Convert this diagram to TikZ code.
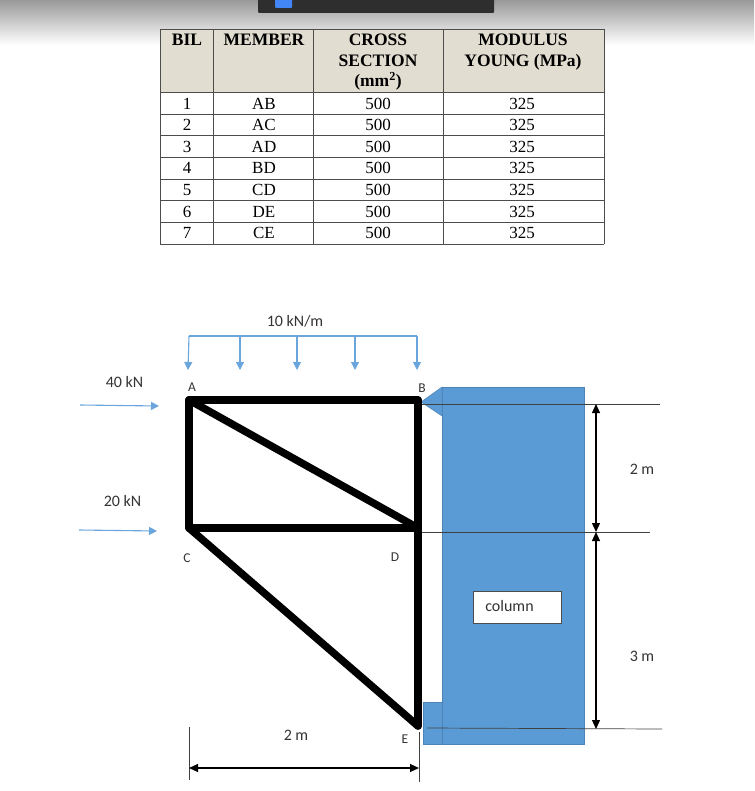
\documentclass[tikz,border=0pt]{standalone}
\usepackage{fontspec}
\setmainfont{Liberation Serif}
\newfontfamily\labelfont{Carlito}
\usetikzlibrary{arrows.meta, positioning}
\definecolor{colblue}{HTML}{5B9BD5}
\definecolor{loadblue}{HTML}{6AA5DC}
\definecolor{headfill}{HTML}{E2DDD1}
\definecolor{iconblue}{HTML}{4285F4}
\begin{document}
\begin{tikzpicture}[
        x=1pt, y=-1pt,
        member/.style={line width=7.5pt, black, line cap=round},
        load/.style={-{Triangle[length=8pt, width=8pt]}, line width=1.1pt, loadblue},
        dimline/.style={{Triangle[length=9pt, width=8pt]}-{Triangle[length=9pt, width=8pt]}, line width=1.1pt, black},
        guide/.style={line width=0.7pt, black!75},
        txt/.style={font=\labelfont\fontsize{16}{16}\selectfont, text=black!80, inner sep=0pt},
        jointtxt/.style={font=\labelfont\fontsize{13.5}{13.5}\selectfont, text=black!80, inner sep=0pt},
        cell/.style={font=\fontsize{17}{17}\selectfont, inner sep=0pt},
        headcell/.style={font=\bfseries\fontsize{17.5}{20.5}\selectfont, inner sep=0pt, align=center, anchor=north},
        grid/.style={line width=0.7pt, black!70}
    ]
        \useasboundingbox (0,0) rectangle (754,791);

        % Screen top
        \shade[top color=black!40, bottom color=white] (0,0) rectangle (754,45);
        \fill[black!82, rounded corners=1pt] (258,-4) rectangle (494,13);
        \fill[iconblue, rounded corners=1pt] (275,-4) rectangle (292,8);

        % Table
        \fill[headfill] (160,29) rectangle (604,92);
        \foreach \y in {29,92,114,135,157,179,200,222,244}
            \draw[grid] (160,\y) -- (604,\y);
        \foreach \x in {160,213,313,443,604}
            \draw[grid] (\x,29) -- (\x,244);
        \node[headcell] (hbil) at (187,34) {BIL};
        \node[headcell] (hmember) at (264,34) {MEMBER};
        \node[headcell] (hcross) at (378,34) {CROSS\\SECTION\\(mm\textsuperscript{2})};
        \node[headcell] (hmodulus) at (523,34) {MODULUS\\YOUNG (MPa)};
        \foreach \n/\m/\y in {1/AB/104, 2/AC/125, 3/AD/147, 4/BD/168, 5/CD/190, 6/DE/212, 7/CE/233} {
            \node[cell] (bil\n) at (187,\y) {\n};
            \node[cell] (mem\n) at (264,\y) {\m};
            \node[cell] (sec\n) at (378,\y) {500};
            \node[cell] (mod\n) at (522,\y) {325};
        }

        % Column
        \fill[colblue, draw=colblue!85!black, line width=0.5pt] (442,387) rectangle (584,744);
        \fill[colblue, draw=colblue!85!black, line width=0.5pt] (423,702) rectangle (442,744);
        \fill[colblue, draw=colblue!85!black, line width=0.5pt] (442,387) -- (421,402) -- (442,416) -- cycle;
        \node[draw=black!70, fill=white, minimum width=88pt, minimum height=32pt, inner sep=0pt] (column) at (517,607) {};
        \node[txt] (columntext) at (509.5,606) {column};

        % Joints
        \coordinate (A) at (189,400);
        \coordinate (B) at (418,400);
        \coordinate (C) at (189,528);
        \coordinate (D) at (418,528);
        \coordinate (E) at (418,726);

        % Level lines
        \coordinate (top0) at (421,404);
        \coordinate (top1) at (660,404);
        \coordinate (mid0) at (418,532);
        \coordinate (mid1) at (650,532);
        \coordinate (low0) at (427,728);
        \coordinate (low1) at (662,729);
        \draw[guide] (top0) -- (top1);
        \draw[guide] (mid0) -- (mid1);
        \draw[guide] (low0) -- (low1);

        % Members
        \draw[member] (A) -- (B);
        \draw[member] (A) -- (C);
        \draw[member] (A) -- (D);
        \draw[member] (B) -- (D);
        \draw[member] (C) -- (D);
        \draw[member] (C) -- (E);
        \draw[member] (D) -- (E);

        % Joint labels
        \node[jointtxt] (la) at (192,387) {A};
        \node[jointtxt] (lb) at (422,388) {B};
        \node[jointtxt] (lc) at (187,558) {C};
        \node[jointtxt] (ld) at (395,557) {D};
        \node[jointtxt] (le) at (405,739) {E};

        % Distributed load
        \coordinate (q1) at (189,336);
        \coordinate (q2) at (240,336);
        \coordinate (q3) at (297,336);
        \coordinate (q4) at (355,336);
        \coordinate (q5) at (417,336);
        \coordinate (p1) at (188,370);
        \coordinate (p2) at (240,370);
        \coordinate (p3) at (297,370);
        \coordinate (p4) at (355,370);
        \coordinate (p5) at (417,370);
        \draw[line width=1.1pt, loadblue] (q1) -- (q5);
        \foreach \i in {1,...,5}
            \draw[load] (q\i) -- (p\i);
        \node[txt] (qtext) at (295,321) {10 kN/m};

        % Point loads
        \coordinate (f1a) at (80,405);
        \coordinate (f1b) at (159,406);
        \coordinate (f2a) at (79,530);
        \coordinate (f2b) at (157,531);
        \draw[load] (f1a) -- (f1b);
        \draw[load] (f2a) -- (f2b);
        \node[txt] (f1text) at (124.5,382) {40 kN};
        \node[txt] (f2text) at (122.5,501) {20 kN};

        % Dimensions
        \coordinate (d1) at (596,404);
        \coordinate (d2) at (596,532);
        \coordinate (d3) at (596,729);
        \draw[dimline] (d1) -- (d2);
        \draw[dimline] (d2) -- (d3);
        \node[txt] (dim2) at (642,469) {2 m};
        \node[txt] (dim3) at (642,656) {3 m};

        \coordinate (w1) at (189,727);
        \coordinate (w2) at (189,780);
        \coordinate (w3) at (419,732);
        \coordinate (w4) at (419,782);
        \coordinate (w5) at (189,768);
        \coordinate (w6) at (419,768);
        \draw[guide] (w1) -- (w2);
        \draw[guide] (w3) -- (w4);
        \draw[dimline] (w5) -- (w6);
        \node[txt] (dimb) at (296,735) {2 m};
    \end{tikzpicture}
\end{document}
